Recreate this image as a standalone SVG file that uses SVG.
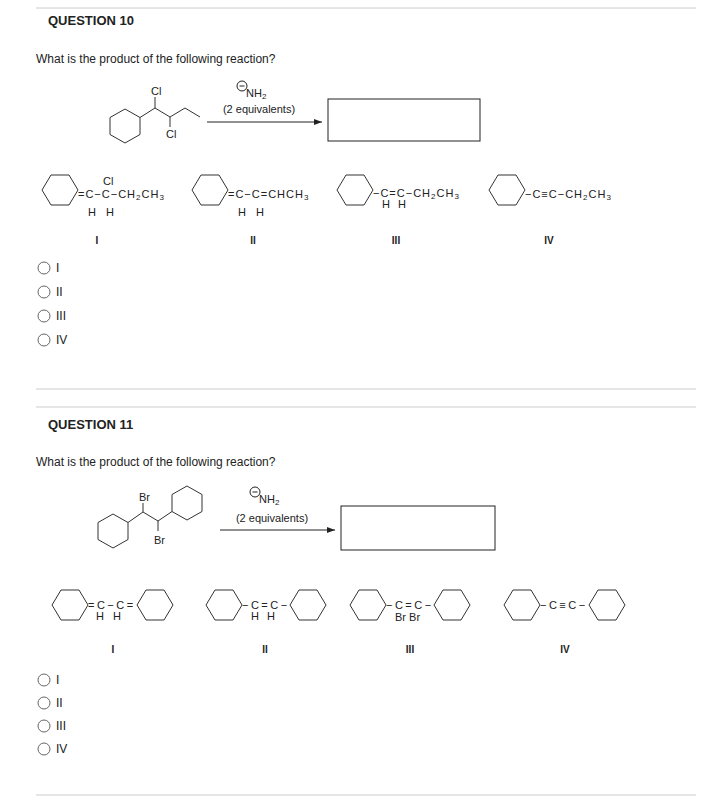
<svg xmlns="http://www.w3.org/2000/svg" width="710" height="802" viewBox="0 0 710 802">
<style>
text{font-family:"Liberation Sans",Arial,sans-serif;fill:#222}
.t{font-size:13px;font-weight:bold}
.q{font-size:12px}
.s{font-size:11px}
.c{font-size:11px;letter-spacing:1px}
.w{font-size:11px;letter-spacing:2.5px}
.l{font-size:10px;font-weight:bold;text-anchor:middle}
.b{fill:none;stroke:#333;stroke-width:1}
.hr{stroke:#ccc;stroke-width:1}
.r{fill:#fff;stroke:#666;stroke-width:1}
</style>
<defs>
<polygon id="hx" class="b" points="-18,0 -9,-15 9,-15 18,0 9,15 -9,15"/>
<polygon id="hv" class="b" points="0,-17 15,-8.5 15,8.5 0,17 -15,8.5 -15,-8.5"/>
<marker id="ar" markerWidth="8" markerHeight="6" refX="8" refY="3" orient="auto"><path d="M0,0L8,3L0,6z" fill="#222"/></marker>
</defs>
<line class="hr" x1="36" y1="8" x2="696" y2="8"/>
<line class="hr" x1="36" y1="389" x2="696" y2="389"/>
<line class="hr" x1="36" y1="407" x2="696" y2="407"/>
<line class="hr" x1="36" y1="795" x2="696" y2="795"/>
<g id="q10">
<text class="t" x="48" y="25">QUESTION 10</text>
<text class="q" x="36" y="63">What is the product of the following reaction?</text>
<g id="q10-reactant">
<use href="#hv" x="125" y="126"/>
<polyline class="b" points="140,117.5 155,108 170,117 185,108 200,117"/>
<line class="b" x1="155" y1="108" x2="155" y2="97"/>
<line class="b" x1="170" y1="117" x2="170" y2="127"/>
<text class="s" x="151" y="95">Cl</text>
<text class="s" x="166" y="138">Cl</text>
</g>
<g id="q10-reagent">
<circle cx="242" cy="86" r="5" fill="none" stroke="#222"/><line x1="239.5" y1="86" x2="244.5" y2="86" stroke="#222"/>
<text class="s" x="246" y="97">NH<tspan font-size="8" dy="2">2</tspan></text>
<text class="s" x="259" y="113" text-anchor="middle">(2 equivalents)</text>
</g>
<g id="q10-connectors"><line x1="207" y1="122" x2="322" y2="122" stroke="#222" marker-end="url(#ar)"/></g>
<rect id="q10-box" x="328" y="99" width="152" height="42" fill="none" stroke="#222"/>
<g id="q10-I"><use href="#hx" x="60" y="190"/>
<text class="c" x="78" y="198">=C−C−CH<tspan font-size="8" dy="2">2</tspan><tspan dy="-2">CH</tspan><tspan font-size="8" dy="2">3</tspan></text>
<text class="s" x="103" y="185">Cl</text><text class="s" x="88" y="216">H</text><text class="s" x="106" y="216">H</text>
<text class="l" x="97" y="244">I</text></g>
<g id="q10-II"><use href="#hx" x="210" y="190"/>
<text class="c" x="228" y="198">=C−C=CHCH<tspan font-size="8" dy="2">3</tspan></text>
<text class="s" x="238" y="216">H</text><text class="s" x="256" y="216">H</text>
<text class="l" x="253" y="244">II</text></g>
<g id="q10-III"><use href="#hx" x="355" y="190"/>
<text class="c" x="373" y="197">−C=C−CH<tspan font-size="8" dy="2">2</tspan><tspan dy="-2">CH</tspan><tspan font-size="8" dy="2">3</tspan></text>
<text class="s" x="382" y="208">H</text><text class="s" x="398" y="208">H</text>
<text class="l" x="396" y="244">III</text></g>
<g id="q10-IV"><use href="#hx" x="507" y="190"/>
<text class="c" x="525" y="198">−C≡C−CH<tspan font-size="8" dy="2">2</tspan><tspan dy="-2">CH</tspan><tspan font-size="8" dy="2">3</tspan></text>
<text class="l" x="549" y="244">IV</text></g>
<g id="q10-choices">
<circle class="r" cx="44" cy="268" r="6"/><text class="q" x="56" y="272">I</text>
<circle class="r" cx="44" cy="292" r="6"/><text class="q" x="56" y="296">II</text>
<circle class="r" cx="44" cy="316" r="6"/><text class="q" x="56" y="320">III</text>
<circle class="r" cx="44" cy="340" r="6"/><text class="q" x="56" y="344">IV</text>
</g>
</g>
<g id="q11">
<text class="t" x="48" y="429">QUESTION 11</text>
<text class="q" x="36" y="466">What is the product of the following reaction?</text>
<g id="q11-reactant">
<use href="#hv" x="113" y="531"/>
<use href="#hv" x="187" y="503"/>
<polyline class="b" points="128,522.5 143,512 158,521 172,511.5"/>
<line class="b" x1="143" y1="512" x2="143" y2="503"/>
<line class="b" x1="158" y1="521" x2="158" y2="531"/>
<text class="s" x="139" y="501">Br</text>
<text class="s" x="154" y="544">Br</text>
</g>
<g id="q11-reagent">
<circle cx="255" cy="492" r="5" fill="none" stroke="#222"/><line x1="252.5" y1="492" x2="257.5" y2="492" stroke="#222"/>
<text class="s" x="259" y="503">NH<tspan font-size="8" dy="2">2</tspan></text>
<text class="s" x="272" y="522" text-anchor="middle">(2 equivalents)</text>
</g>
<g id="q11-connectors"><line x1="220" y1="530" x2="335" y2="530" stroke="#222" marker-end="url(#ar)"/></g>
<rect id="q11-box" x="341" y="506" width="154" height="44" fill="none" stroke="#222"/>
<g id="q11-I"><use href="#hx" x="70" y="605"/><use href="#hx" x="155" y="605"/>
<text class="w" x="88" y="609">=C−C=</text>
<text class="s" x="96" y="620">H</text><text class="s" x="113" y="620">H</text>
<text class="l" x="113" y="653">I</text></g>
<g id="q11-II"><use href="#hx" x="224" y="605"/><use href="#hx" x="308" y="605"/>
<text class="w" x="242" y="609">−C=C−</text>
<text class="s" x="251" y="620">H</text><text class="s" x="267" y="620">H</text>
<text class="l" x="265" y="653">II</text></g>
<g id="q11-III"><use href="#hx" x="368" y="605"/><use href="#hx" x="452" y="605"/>
<text class="w" x="386" y="609">−C=C−</text>
<text class="s" x="395" y="621">Br Br</text>
<text class="l" x="410" y="653">III</text></g>
<g id="q11-IV"><use href="#hx" x="522" y="605"/><use href="#hx" x="607" y="605"/>
<text class="w" x="540" y="609">−C≡C−</text>
<text class="l" x="565" y="653">IV</text></g>
<g id="q11-choices">
<circle class="r" cx="44" cy="680" r="6"/><text class="q" x="56" y="684">I</text>
<circle class="r" cx="44" cy="703" r="6"/><text class="q" x="56" y="707">II</text>
<circle class="r" cx="44" cy="726" r="6"/><text class="q" x="56" y="730">III</text>
<circle class="r" cx="44" cy="749" r="6"/><text class="q" x="56" y="753">IV</text>
</g>
</g>
</svg>
